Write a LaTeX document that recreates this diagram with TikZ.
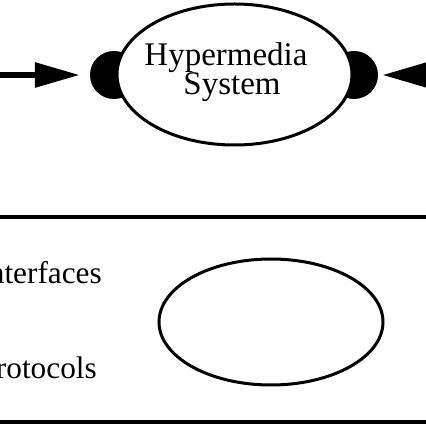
\documentclass[tikz,border=0pt]{standalone}
\usepackage{fontspec}
\setmainfont{Liberation Serif}
\usetikzlibrary{shapes.geometric,arrows.meta}
\begin{document}
\begin{tikzpicture}[x=1pt,y=1pt,
  oval/.style={ellipse,draw,line width=3pt,fill=white,inner sep=0pt},
  halfdisk/.style={circle,fill=black,minimum size=48pt,inner sep=0pt},
  lbl/.style={font=\fontsize{33}{28}\selectfont,inner sep=0pt},
  sidelbl/.style={font=\fontsize{31.3}{28}\selectfont,inner sep=0pt},
  conn/.style={line width=6pt,-{Triangle[length=45pt,width=24pt]}},
  rulestyle/.style={line width=3.5pt}]
\useasboundingbox (0,0) rectangle (426,426);
\clip (0,0) rectangle (426,426);
% interface discs
\node[halfdisk] (lcap) at (114,351) {};
\node[halfdisk] (rcap) at (354,351) {};
% main ellipse
\node[oval,minimum width=235pt,minimum height=141pt] (hs) at (234.5,351.5) {};
\node[lbl,align=center,anchor=base] (t1) at (226,331) {Hypermedia\\\hspace*{12pt}System};
% arrows
\coordinate (lin) at (-2,351);
\coordinate (rin) at (428,351);
\draw[conn,shorten >=10pt] (lin) -- (lcap.west);
\draw[conn,shorten >=4pt] (rin) -- (rcap.east);
% rules
\coordinate (a1) at (-2,209); \coordinate (a2) at (428,209);
\coordinate (b1) at (-2,4); \coordinate (b2) at (428,4);
\draw[rulestyle] (a1) -- (a2);
\draw[rulestyle] (b1) -- (b2);
% lower panel
\node[sidelbl,anchor=base east] (ifc) at (102,142) {Interfaces};
\node[sidelbl,anchor=base east] (prt) at (97,47) {Protocols};
\node[oval,minimum width=224pt,minimum height=126pt] (e2) at (271,104) {};
\end{tikzpicture}
\end{document}
